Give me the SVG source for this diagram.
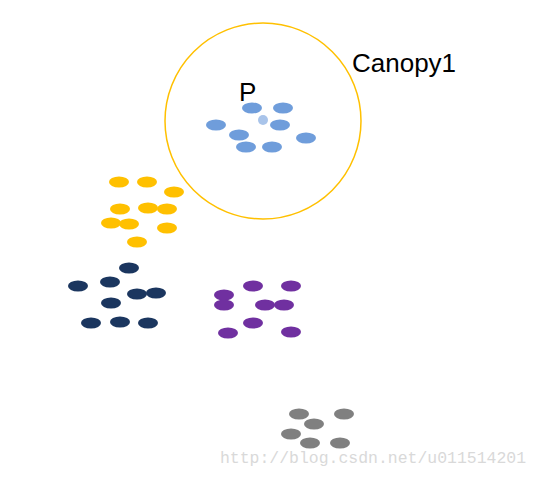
<svg xmlns="http://www.w3.org/2000/svg" width="540" height="478" viewBox="0 0 540 478">
<style>
.pt{stroke:none}
.b{fill:#6f9ddb}
.y{fill:#ffc000}
.n{fill:#1b365f}
.p{fill:#7030a0}
.g{fill:#808080}
.lbl{font-family:"Liberation Sans",Arial,sans-serif;font-size:26px;fill:#000}
.wm{font-family:"Liberation Mono","Courier New",monospace;font-size:16.5px;fill:#d9d9d9}
</style>
<defs>
<ellipse id="dot" rx="10" ry="5.5"/>
</defs>
<rect width="540" height="478" fill="#fff"/>
<g id="canopy1">
<circle cx="263" cy="121" r="98" fill="none" stroke="#ffc000" stroke-width="1.5"/>
<text class="lbl" x="352" y="72">Canopy1</text>
</g>
<g id="cluster-blue" class="b">
<use href="#dot" x="252" y="108"/>
<use href="#dot" x="283" y="108"/>
<use href="#dot" x="216" y="125"/>
<use href="#dot" x="280" y="125"/>
<use href="#dot" x="239" y="135"/>
<use href="#dot" x="306" y="138"/>
<use href="#dot" x="246" y="147"/>
<use href="#dot" x="272" y="147"/>
</g>
<g id="point-P">
<circle cx="263" cy="120" r="5" fill="#a9c4ea"/>
<text class="lbl" x="239" y="101">P</text>
</g>
<g id="cluster-yellow" class="y">
<use href="#dot" x="119" y="182"/>
<use href="#dot" x="147" y="182"/>
<use href="#dot" x="174" y="192"/>
<use href="#dot" x="120" y="209"/>
<use href="#dot" x="148" y="208"/>
<use href="#dot" x="167" y="209"/>
<use href="#dot" x="111" y="223"/>
<use href="#dot" x="129" y="224"/>
<use href="#dot" x="167" y="228"/>
<use href="#dot" x="137" y="242"/>
</g>
<g id="cluster-navy" class="n">
<use href="#dot" x="129" y="268"/>
<use href="#dot" x="78" y="286"/>
<use href="#dot" x="110" y="282"/>
<use href="#dot" x="137" y="294"/>
<use href="#dot" x="156" y="293"/>
<use href="#dot" x="111" y="303"/>
<use href="#dot" x="91" y="323"/>
<use href="#dot" x="120" y="322"/>
<use href="#dot" x="148" y="323"/>
</g>
<g id="cluster-purple" class="p">
<use href="#dot" x="253" y="286"/>
<use href="#dot" x="291" y="286"/>
<use href="#dot" x="224" y="295"/>
<use href="#dot" x="224" y="305"/>
<use href="#dot" x="265" y="305"/>
<use href="#dot" x="284" y="305"/>
<use href="#dot" x="253" y="323"/>
<use href="#dot" x="228" y="333"/>
<use href="#dot" x="291" y="332"/>
</g>
<g id="cluster-gray" class="g">
<use href="#dot" x="299" y="414"/>
<use href="#dot" x="344" y="414"/>
<use href="#dot" x="314" y="424"/>
<use href="#dot" x="291" y="434"/>
<use href="#dot" x="310" y="443"/>
<use href="#dot" x="340" y="443"/>
</g>
<g id="connectors"></g>
<text class="wm" x="220" y="463" textLength="306" lengthAdjust="spacingAndGlyphs">http://blog.csdn.net/u011514201</text>
</svg>
